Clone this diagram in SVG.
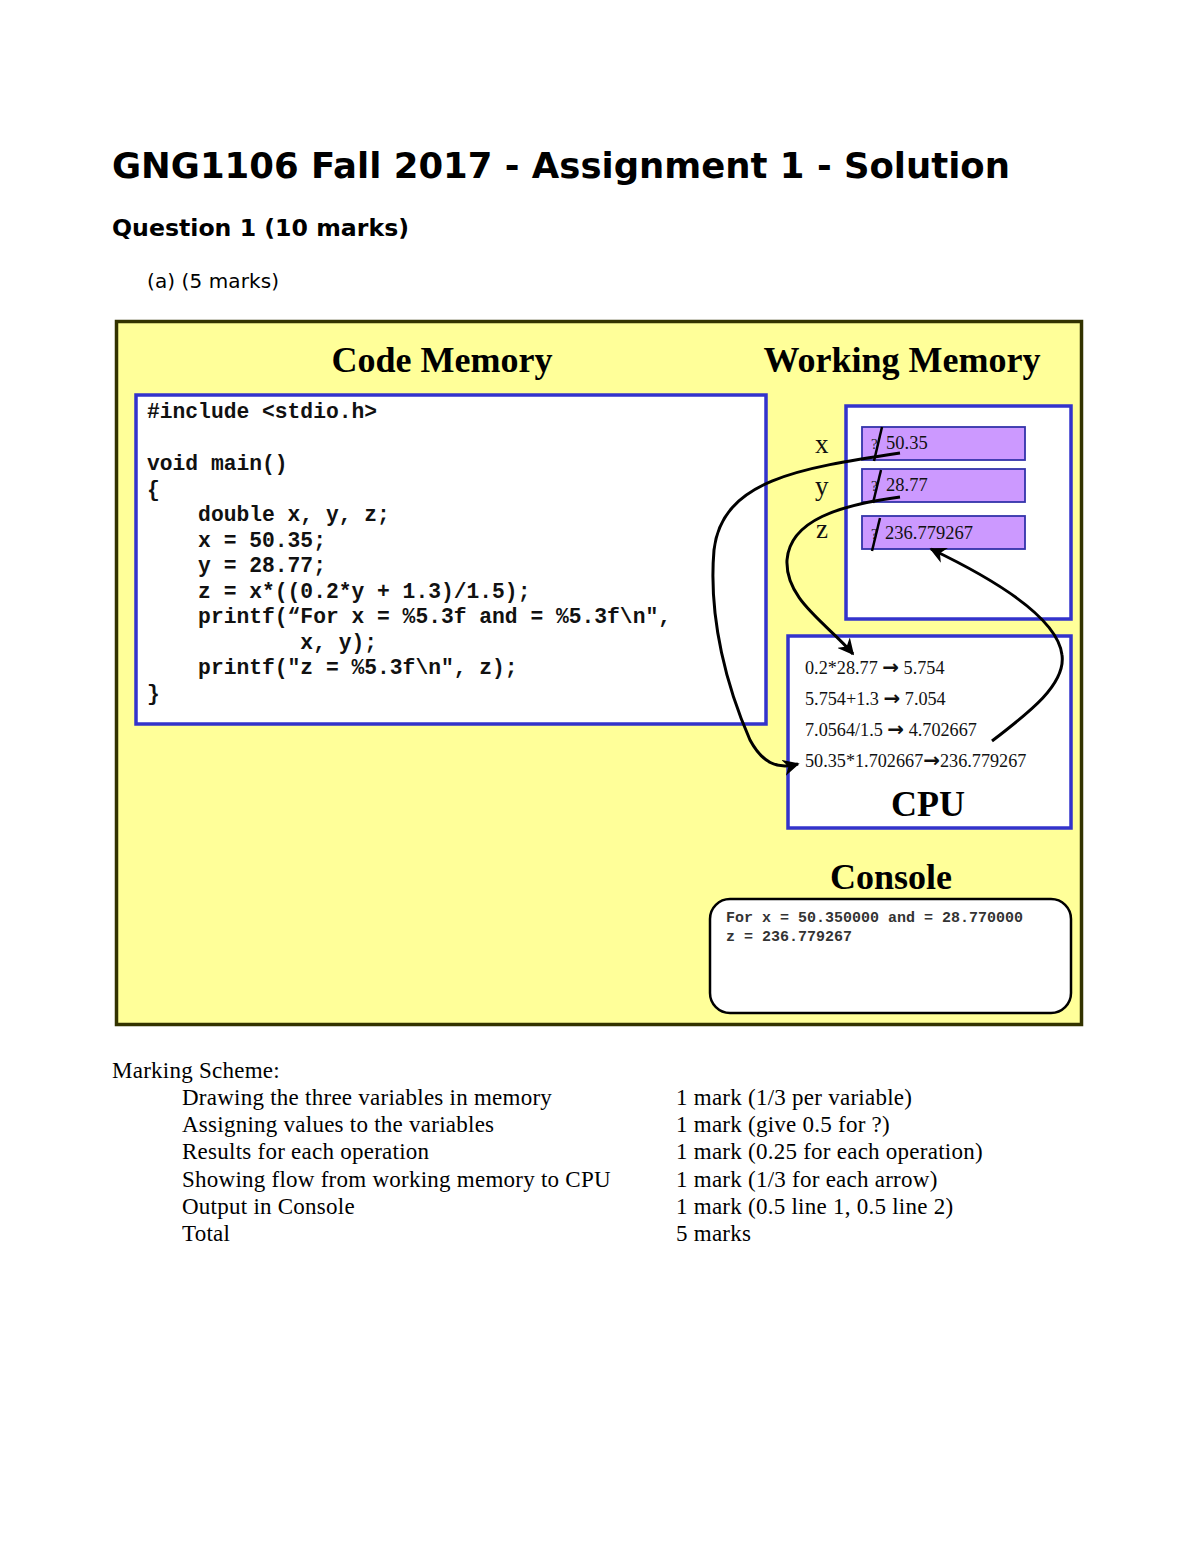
<svg xmlns="http://www.w3.org/2000/svg" width="1200" height="1553" viewBox="0 0 1200 1553">
<style>
.sans{font-family:"DejaVu Sans","Liberation Sans",sans-serif;fill:#000}
.serif{font-family:"Liberation Serif","DejaVu Serif",serif;fill:#000}
.code{font-family:"Liberation Mono","DejaVu Sans Mono",monospace;font-weight:bold;font-size:21.3px;fill:#111;white-space:pre}
.head{font-family:"Liberation Serif","DejaVu Serif",serif;font-weight:bold;font-size:36px;fill:#000}
.box{fill:#fff;stroke:#3333cc;stroke-width:3.5}
.cell{fill:#cc99ff;stroke:#3333aa;stroke-width:1.8}
.val{font-family:"Liberation Serif","DejaVu Serif",serif;font-size:18.5px;fill:#111}
.q{font-family:"Liberation Serif","DejaVu Serif",serif;font-size:15px;fill:#222}
.slash{stroke:#000;stroke-width:2.5}
.lbl{font-family:"Liberation Serif","DejaVu Serif",serif;font-size:27px;fill:#111}
.cpu{font-family:"Liberation Serif","DejaVu Serif",serif;font-size:18.2px;fill:#111}
.arr{font-family:"DejaVu Sans","Liberation Sans",sans-serif;font-weight:bold;font-size:20px}
.con{font-family:"Liberation Mono","DejaVu Sans Mono",monospace;font-size:15px;font-weight:bold;fill:#333;white-space:pre}
.ms{font-family:"Liberation Serif","DejaVu Serif",serif;font-size:23px;letter-spacing:0.25px;fill:#000}
.flow{fill:none;stroke:#000;stroke-width:3;marker-end:url(#ah)}
</style>
<defs>
<marker id="ah" viewBox="0 0 10 10" refX="9" refY="5" markerWidth="5.5" markerHeight="5.5" markerUnits="strokeWidth" orient="auto">
<path d="M0,0 L10,5 L0,10 L3,5 z" fill="#000"/>
</marker>
</defs>
<rect width="1200" height="1553" fill="#fff"/>

<g id="title">
<text class="sans" x="112" y="178" font-size="35.4" font-weight="bold" textLength="898" lengthAdjust="spacingAndGlyphs">GNG1106 Fall 2017 - Assignment 1 - Solution</text>
<text class="sans" x="112" y="236" font-size="23.6" font-weight="bold" textLength="297" lengthAdjust="spacingAndGlyphs">Question 1 (10 marks)</text>
<text class="sans" x="147" y="288" font-size="20" textLength="132" lengthAdjust="spacing">(a) (5 marks)</text>
</g>

<g id="frame">
<rect x="116.5" y="321.5" width="965" height="703" fill="#ffff99" stroke="#333300" stroke-width="3.5"/>
<text class="head" x="442" y="372" text-anchor="middle">Code Memory</text>
<text class="head" x="902" y="372" text-anchor="middle">Working Memory</text>
</g>

<g id="code-memory">
<rect class="box" x="136" y="395" width="630" height="329"/>
<text class="code" x="147" y="418">#include &lt;stdio.h&gt;</text>
<text class="code" x="147" y="470">void main()</text>
<text class="code" x="147" y="495.5">{</text>
<text class="code" x="147" y="521">    double x, y, z;</text>
<text class="code" x="147" y="546.5">    x = 50.35;</text>
<text class="code" x="147" y="572">    y = 28.77;</text>
<text class="code" x="147" y="597.5">    z = x*((0.2*y + 1.3)/1.5);</text>
<text class="code" x="147" y="623">    printf(“For x = %5.3f and = %5.3f\n",</text>
<text class="code" x="147" y="648.5">            x, y);</text>
<text class="code" x="147" y="674">    printf("z = %5.3f\n", z);</text>
<text class="code" x="147" y="699.5">}</text>
</g>

<g id="working-memory">
<rect class="box" x="846" y="406" width="225" height="213"/>
<text class="lbl" x="815" y="453">x</text>
<text class="lbl" x="815" y="495">y</text>
<text class="lbl" x="816" y="538">z</text>
<g id="var-x">
<rect class="cell" x="862" y="427" width="163" height="33"/>
<text class="q" x="871" y="449">?</text>
<line class="slash" x1="882" y1="427" x2="874" y2="461"/>
<text class="val" x="886" y="449">50.35</text>
</g>
<g id="var-y">
<rect class="cell" x="862" y="469" width="163" height="33"/>
<text class="q" x="871" y="491">?</text>
<line class="slash" x1="881" y1="470" x2="873" y2="503"/>
<text class="val" x="886" y="491">28.77</text>
</g>
<g id="var-z">
<rect class="cell" x="862" y="516" width="163" height="33"/>
<text class="q" x="871" y="539">?</text>
<line class="slash" x1="880" y1="518" x2="872" y2="551"/>
<text class="val" x="885" y="539">236.779267</text>
</g>
</g>

<g id="cpu">
<rect class="box" x="788" y="636" width="283" height="192"/>
<text class="cpu" x="805" y="674">0.2*28.77 <tspan class="arr">→</tspan> 5.754</text>
<text class="cpu" x="805" y="705">5.754+1.3 <tspan class="arr">→</tspan> 7.054</text>
<text class="cpu" x="805" y="736">7.0564/1.5 <tspan class="arr">→</tspan> 4.702667</text>
<text class="cpu" x="805" y="767">50.35*1.702667<tspan class="arr">→</tspan>236.779267</text>
<text class="head" x="928" y="816" text-anchor="middle">CPU</text>
</g>

<g id="console">
<text class="head" x="891" y="889" text-anchor="middle">Console</text>
<rect x="710" y="899" width="361" height="114" rx="20" ry="20" fill="#fff" stroke="#000" stroke-width="2.5"/>
<text class="con" x="726" y="922">For x = 50.350000 and = 28.770000</text>
<text class="con" x="726" y="941">z = 236.779267</text>
</g>

<g id="connectors">
<path class="flow" d="M900 453 C800 468,722 480,714 550 C708 620,728 690,750 740 C762 762,776 770,798 764"/>
<path class="flow" d="M900 497 C840 505,790 520,787 560 C785 600,828 624,853 654"/>
<path class="flow" d="M992 741 C1030 712,1066 684,1062 655 C1058 620,1000 582,931 549"/>
</g>

<g id="marking-scheme">
<text class="ms" x="112" y="1078">Marking Scheme:</text>
<text class="ms" x="182" y="1105">Drawing the three variables in memory</text>
<text class="ms" x="182" y="1132">Assigning values to the variables</text>
<text class="ms" x="182" y="1159">Results for each operation</text>
<text class="ms" x="182" y="1187">Showing flow from working memory to CPU</text>
<text class="ms" x="182" y="1214">Output in Console</text>
<text class="ms" x="182" y="1241">Total</text>
<text class="ms" x="676" y="1105">1 mark (1/3 per variable)</text>
<text class="ms" x="676" y="1132">1 mark (give 0.5 for ?)</text>
<text class="ms" x="676" y="1159">1 mark (0.25 for each operation)</text>
<text class="ms" x="676" y="1187">1 mark (1/3 for each arrow)</text>
<text class="ms" x="676" y="1214">1 mark (0.5 line 1, 0.5 line 2)</text>
<text class="ms" x="676" y="1241">5 marks</text>
</g>
</svg>
